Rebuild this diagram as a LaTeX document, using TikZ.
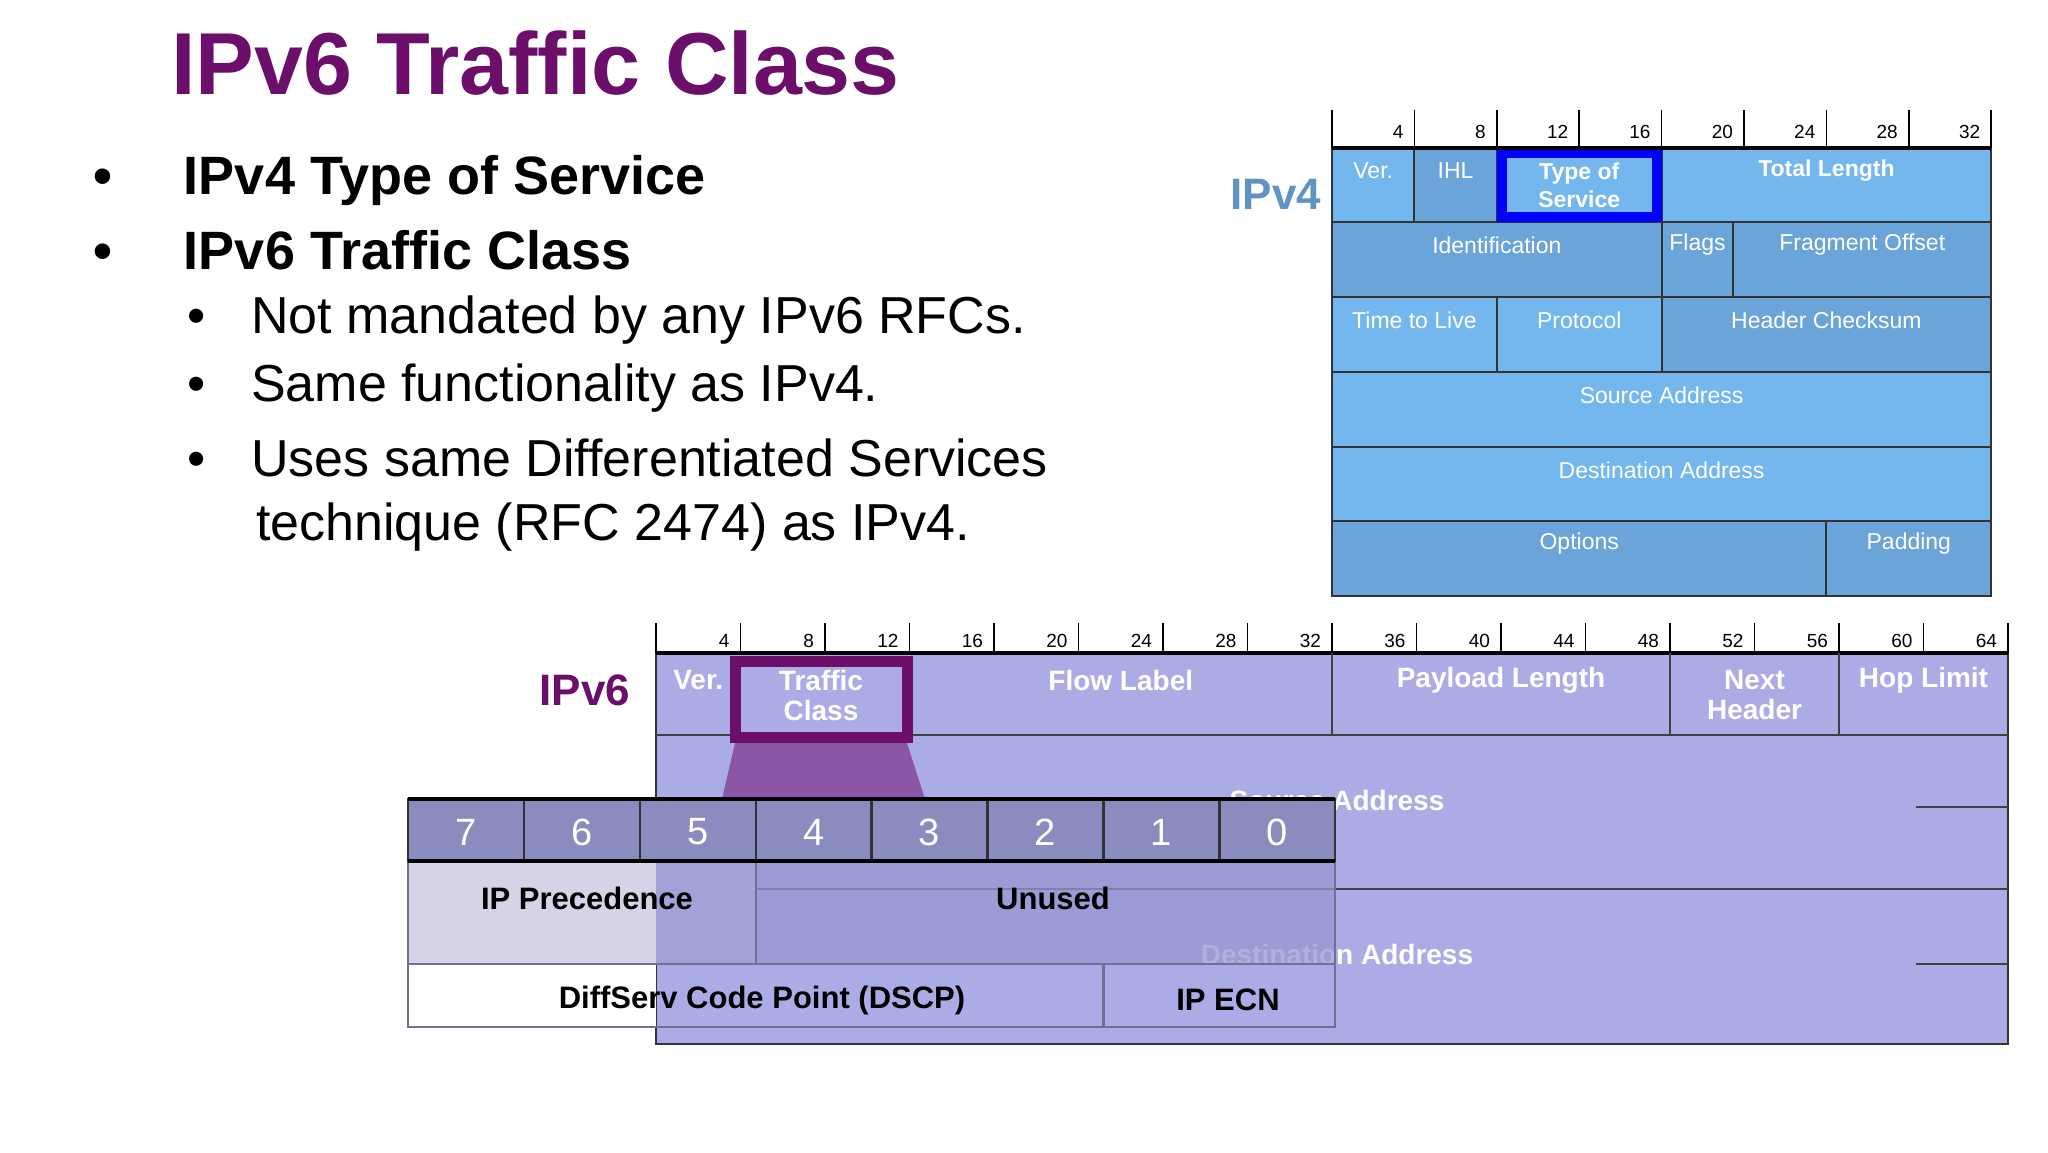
\documentclass[tikz,border=0pt]{standalone}
\usepackage{fontspec}
\setmainfont{Liberation Sans}
\definecolor{ttl}{HTML}{6B0F6B}
\definecolor{lb}{HTML}{74B6EE}
\definecolor{db}{HTML}{6AA4D8}
\definecolor{v6}{HTML}{ABACE6}
\definecolor{bits}{HTML}{8A8BBE}
\begin{document}
\begin{tikzpicture}[x=0.5pt,y=-0.5pt,
  f4/.style={font=\fontsize{11.5}{13}\selectfont,text=white,align=center},
  f6/.style={font=\bfseries\fontsize{14}{15}\selectfont,text=white,align=center},
  rn/.style={font=\fontsize{9.5}{10}\selectfont,anchor=east},
  bl/.style={font=\bfseries\fontsize{27}{30}\selectfont,anchor=west},
  sb/.style={font=\fontsize{26}{30}\selectfont,anchor=west},
  cell/.style={draw=black!80,line width=1pt},
  bt/.style={font=\bfseries\fontsize{15.5}{17}\selectfont,text=black}]
\useasboundingbox (0,0) rectangle (2048,1152);
\node[anchor=west,text=ttl,font=\bfseries\fontsize{44}{48}\selectfont] (title) at (164,63) {IPv6 Traffic Class};
\node[bl] (b1) at (86,181) {•\hspace{36pt}IPv4 Type of Service};
\node[bl] (b2) at (86,250) {•\hspace{36pt}IPv6 Traffic Class};
\node[sb] (s1) at (180,320) {•\hspace{23pt}Not mandated by any IPv6 RFCs.};
\node[sb] (s2) at (180,388) {•\hspace{23pt}Same functionality as IPv4.};
\node[sb] (s3) at (180,458) {•\hspace{23pt}Uses same Differentiated Services};
\node[sb] (s4) at (249,527) {technique (RFC 2474) as IPv4.};
% IPv4
\node[text=db!90!black,font=\bfseries\fontsize{22}{24}\selectfont] (l4) at (1276,194) {IPv4};
\def\L{1332}\def\W{82.4}
\foreach \a/\b/\t/\c/\yy in {0/1/Ver./lb/148,1/2/IHL/db/148,2/4/{}/lb/148,4/8/{}/lb/148,
  0/4/Identification/db/222,4/4.87/Flags/db/222,4.87/8/Fragment Offset/db/222,
  0/2/Time to Live/lb/297,2/4/Protocol/lb/297,4/8/Header Checksum/db/297,
  0/8/Source Address/lb/372,0/8/Destination Address/lb/447,0/6/Options/db/521,6/8/Padding/db/521}{
  \draw[cell,fill=\c] ({\L+\a*\W},\yy) rectangle ({\L+\b*\W},\yy+74.5);
  \node[f4] at ({\L+(\a+\b)*\W/2},\yy+23) {\t};}
\node[f4,font=\bfseries\fontsize{11.5}{13}\selectfont] (tl) at ({\L+6*\W},171) {Total Length};
\foreach \n in {Ver.,Time to Live,Protocol,Source Address,Destination Address}{}
\draw[blue,line width=5pt,fill=lb] ({\L+2*\W+5},153) rectangle ({\L+4*\W-5},217);
\node[f4,font=\bfseries\fontsize{11.5}{14}\selectfont] (tos) at ({\L+3*\W},185) {Type of\\Service};
\draw[line width=1.6pt] (\L,148) -- ({\L+8*\W},148);
\foreach \i in {0,...,8}{\draw[line width=0.8pt] ({\L+\i*\W},110) -- ({\L+\i*\W},148);}
\foreach \i in {1,...,8}{\node[rn] at ({\L+\i*\W-4},132) {\the\numexpr\i*4\relax};}
% IPv6
\node[text=ttl,font=\bfseries\fontsize{22}{24}\selectfont] (l6) at (585,690) {IPv6};
\def\M{656}\def\V{84.5}
\fill[v6] (\M,653) rectangle ({\M+16*\V},1044);
\draw[line width=1.2pt,black!80] (\M,653) rectangle ({\M+16*\V},1044);
\draw[line width=1.6pt] (\M,653) -- ({\M+16*\V},653);
\foreach \i in {0,...,16}{\draw[line width=0.8pt] ({\M+\i*\V},623) -- ({\M+\i*\V},653);}
\foreach \i in {1,...,16}{\node[rn] at ({\M+\i*\V-4},641) {\the\numexpr\i*4\relax};}
\draw[line width=1.2pt,black!75] (\M,735) -- ({\M+16*\V},735) (\M,889) -- ({\M+16*\V},889)
  ({\M+8*\V},653) -- ({\M+8*\V},735) ({\M+12*\V},653) -- ({\M+12*\V},735) ({\M+14*\V},653) -- ({\M+14*\V},735)
  (1916,807) -- ({\M+16*\V},807) (1916,964) -- ({\M+16*\V},964);
\node[f6] (ver) at ({\M+0.5*\V},680) {Ver.};
\node[f6] (fl) at ({\M+5.5*\V},680) {Flow Label};
\node[f6] (pl) at ({\M+10*\V},680) {Payload Length};
\node[f6] (nh) at ({\M+13*\V},695) {Next\\Header};
\node[f6] (hl) at ({\M+15*\V},680) {Hop Limit};
\node[f6] (sa) at (1337,800) {Source Address};
\node[f6] (da) at (1337,954) {Destination Address};
\fill[fill={rgb,255:red,140;green,86;blue,166}] (735,743) -- (907,743) -- (925,799) -- (722,799) -- cycle;
\draw[ttl,line width=5.5pt] (735,661) rectangle (907,737);
\node[f6] (tc) at (821,695) {Traffic\\Class};
% bit table
\def\B{408}\def\C{115.9}
\fill[fill={rgb,255:red,213;green,211;blue,230}] (\B,861) rectangle (656,964);
\fill[fill={rgb,255:red,163;green,162;blue,214}] (656,861) rectangle ({\B+3*\C},964);
\fill[fill={rgb,255:red,150;green,150;blue,208},opacity=0.75] ({\B+3*\C},861) rectangle ({\B+8*\C},964);
\fill[white] (\B,964) rectangle (656,1027);
\draw[black!35!v6,line width=1.2pt] (\B,861) rectangle ({\B+8*\C},1027) (\B,964) -- ({\B+8*\C},964)
  ({\B+3*\C},861) -- ({\B+3*\C},964) ({\B+6*\C},964) -- ({\B+6*\C},1027);
\foreach \i in {0,...,7}{
  \draw[fill=bits,draw=black!80,line width=1.2pt] ({\B+\i*\C},799) rectangle ({\B+(\i+1)*\C},861);
  \node[text=white,font=\fontsize{19}{20}\selectfont] at ({\B+(\i+0.5)*\C},832) {\the\numexpr7-\i\relax};}
\draw[line width=2pt] (\B,799) -- ({\B+8*\C},799) (\B,861) -- ({\B+8*\C},861);
\node[bt] (ipp) at (587,898) {IP Precedence};
\node[bt] (un) at (1053,898) {Unused};
\node[bt] (ds) at (762,1000) {DiffServ Code Point (DSCP)};
\node[bt] (ecn) at (1228,1000) {IP ECN};
\end{tikzpicture}
\end{document}
